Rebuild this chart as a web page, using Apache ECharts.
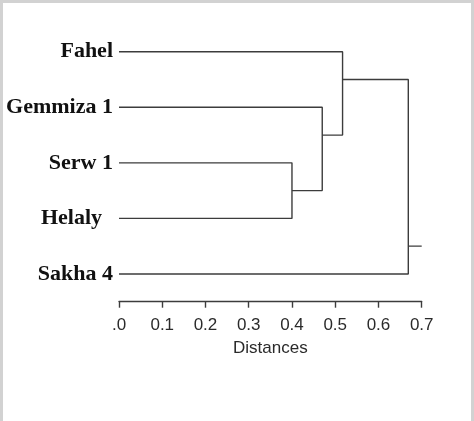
<!DOCTYPE html>
<html>
<head>
<meta charset="utf-8">
<script src="https://cdn.jsdelivr.net/npm/echarts@6/dist/echarts.min.js"></script>
<style>
  html, body { margin: 0; padding: 0; background: #fff; }
  #chart { width: 474px; height: 421px; }
</style>
</head>
<body>
<div id="chart"></div>
<script>
// leaves, top to bottom
var leaves = ['Fahel', 'Gemmiza 1', 'Serw 1', 'Helaly  ', 'Sakha 4'];
// merge steps: join distance, row where the new node sits, and the two children
// (child < 0 means leaf index -child-1, otherwise an earlier merge)
var mergeDist = [0.40, 0.47, 0.517, 0.669];
var mergeRow = [2.5, 1.5, 0.5, 3.5];
var mergeA = [-3, -2, -1, 2];
var mergeB = [-4, 0, 1, -5];
var rootStub = 0.70;
var xTicks = [0, 0.1, 0.2, 0.3, 0.4, 0.5, 0.6, 0.7];

function nodeOf(c) {
  if (c < 0) return { d: 0, r: -c - 1 };
  return { d: mergeDist[c], r: mergeRow[c] };
}

var series = [];
for (var i = 0; i < mergeDist.length; i++) {
  var a = nodeOf(mergeA[i]), b = nodeOf(mergeB[i]), h = mergeDist[i];
  series.push({
    type: 'line', yAxisIndex: 1, symbol: 'none', silent: true,
    lineStyle: { color: '#3c3c3c', width: 1.4 },
    data: [[a.d, a.r], [h, a.r], [h, b.r], [b.d, b.r]]
  });
}
var last = mergeDist.length - 1;
series.push({
  type: 'line', yAxisIndex: 1, symbol: 'none', silent: true,
  lineStyle: { color: '#3c3c3c', width: 1.4 },
  data: [[mergeDist[last], mergeRow[last]], [rootStub, mergeRow[last]]]
});

var myChart = echarts.init(document.getElementById('chart'));
myChart.setOption({
  animation: false,
  grid: { left: 119, right: 52.3, top: 24, bottom: 119.3 },
  xAxis: {
    type: 'value', min: 0, max: 0.7, interval: 0.1, position: 'bottom',
    name: 'Distances', nameLocation: 'middle', nameGap: 38,
    nameTextStyle: { fontFamily: 'Liberation Sans', fontSize: 17, color: '#2a2a2a' },
    splitLine: { show: false },
    axisLine: { show: true, onZero: false, lineStyle: { color: '#3c3c3c', width: 1.4 } },
    axisTick: { show: true, length: 6, inside: false, lineStyle: { color: '#3c3c3c', width: 1.4 } },
    axisLabel: {
      margin: 15, fontFamily: 'Liberation Sans', fontSize: 17, color: '#2a2a2a',
      formatter: function (v) {
        var s = v.toFixed(1);
        return xTicks.indexOf(+s) === 0 ? '.0' : s;
      }
    }
  },
  yAxis: [{
    type: 'category', data: leaves, inverse: true,
    axisLine: { show: false }, axisTick: { show: false }, splitLine: { show: false },
    axisLabel: { margin: 6, fontFamily: 'Liberation Serif', fontWeight: 'bold', fontSize: 22, color: '#111' }
  }, {
    type: 'value', min: -0.5, max: 4.5, inverse: true, show: false
  }],
  graphic: [{
    type: 'rect', silent: true,
    shape: { x: 1.5, y: 1.5, width: 471, height: 421 },
    style: { fill: null, stroke: '#d2d2d2', lineWidth: 3 }
  }],
  series: series
});
</script>
</body>
</html>
